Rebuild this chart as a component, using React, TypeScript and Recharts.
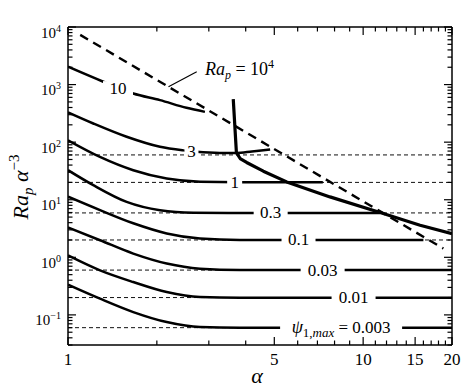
import { ComposedChart, Line, Scatter, XAxis, YAxis } from "recharts"

// contour lines of psi_1,max as [alpha, Ra_p alpha^-3]
const psi10: [number, number][] = [[1, 2040], [1.317, 1120], [1.664, 700], [2.05, 537], [2.52, 395], [2.91, 336]]
const psi3: [number, number][] = [[1, 329], [1.218, 211], [1.58, 124], [2.05, 83], [2.46, 72], [2.73, 68], [3.27, 65], [3.72, 65], [4.2, 69], [4.84, 74.6]]
const psi1: [number, number][] = [[1, 108], [1.283, 55.5], [1.664, 32.6], [2.16, 23.4], [2.8, 20.6], [3.8, 20.2], [7.3, 20.2]]
const psi03: [number, number][] = [[1, 32.6], [1.218, 17.9], [1.58, 9.16], [2.05, 6.57], [2.66, 5.95], [3.5, 5.9], [11.4, 5.9]]
const psi01: [number, number][] = [[1, 11.3], [1.284, 6.6], [1.664, 3.9], [2.16, 2.6], [2.8, 2.12], [3.82, 2.0], [16, 2.0]]
const psi003: [number, number][] = [[1, 3.3], [1.284, 1.98], [1.664, 1.16], [2.16, 0.78], [2.8, 0.635], [3.82, 0.6], [20, 0.6]]
const psi001: [number, number][] = [[1, 1.08], [1.284, 0.594], [1.664, 0.372], [2.16, 0.249], [2.8, 0.204], [3.82, 0.198], [20, 0.198]]
const psi0003: [number, number][] = [[1, 0.335], [1.284, 0.191], [1.664, 0.112], [2.16, 0.075], [2.8, 0.0614], [3.82, 0.06], [20, 0.06]]

// thick regime boundary
const boundary: [number, number][] = [[3.63, 560], [3.72, 66], [3.83, 52], [4.03, 44.4], [4.59, 31.3], [5.51, 20.4], [7.72, 11.2], [11.41, 5.99], [15.59, 3.6], [20, 2.58]]
// Ra_p = 10^4 line and its pointer
const raLine: [number, number][] = [[1.1, 7300], [18.7, 1.42]]
const raPointer: [number, number][] = [[2.19, 916], [2.73, 1670]]
const raText = [{ a: 2.91, v: 1462 }]

// thin dashed asymptotes
const asymptotes = [60, 20, 5.9, 2.0, 0.6, 0.2, 0.06]

const contourLabels = [
  { a: 1.477, v: 869, text: "10" },
  { a: 2.62, v: 68.4, text: "3" },
  { a: 3.67, v: 20.2, text: "1" },
  { a: 4.86, v: 5.9, text: "0.3" },
  { a: 6.04, v: 2.0, text: "0.1" },
  { a: 7.29, v: 0.6, text: "0.03" },
  { a: 9.28, v: 0.2, text: "0.01" },
  { a: 8.42, v: 0.06, text: "0.003" },
]

const X_TICKS = [1, 2, 3, 4, 5, 6, 7, 8, 9, 10, 11, 12, 13, 14, 15, 16, 17, 18, 19, 20]
const X_LABELS = [1, 5, 10, 15, 20]
const Y_MAJOR = [0.1, 1, 10, 100, 1000, 10000]
const Y_EXPONENTS = ["\u22121", "0", "1", "2", "3", "4"]
const Y_MINOR = [
  0.03, 0.04, 0.05, 0.06, 0.07, 0.08, 0.09,
  0.2, 0.3, 0.4, 0.5, 0.6, 0.7, 0.8, 0.9,
  2, 3, 4, 5, 6, 7, 8, 9,
  20, 30, 40, 50, 60, 70, 80, 90,
  200, 300, 400, 500, 600, 700, 800, 900,
  2000, 3000, 4000, 5000, 6000, 7000, 8000, 9000,
]
const Y_TICKS = [...Y_MINOR, ...Y_MAJOR].sort((p, q) => p - q)

const FONT = "'Liberation Serif', 'DejaVu Serif', serif"
const LABEL_GAPS: Record<string, number> = {
  "10": 30, "3": 14, "1": 15, "0.3": 34, "0.1": 34, "0.03": 44, "0.01": 44, "0.003": 122,
}

const toRows = (pts: [number, number][]) => pts.map(([a, v]) => ({ a, v }))

function makeTick(side: "left" | "right" | "top" | "bottom") {
  return (props: any) => {
    const { x, y, payload } = props
    const v = payload.value
    const vertical = side === "left" || side === "right"
    const major = vertical ? Y_MAJOR.includes(v) : X_LABELS.includes(v)
    const len = major ? 8 : 4.5
    let x2 = x
    let y2 = y
    if (side === "left") x2 = x + len
    if (side === "right") x2 = x - len
    if (side === "bottom") y2 = y - len
    if (side === "top") y2 = y + len
    let label = null
    if (side === "left" && major) {
      label = (
        <text x={x - 7} y={y + 10.5} textAnchor="end" fontSize={15} fontFamily={FONT} fill="#000">
          10<tspan dy={-6} fontSize={10}>{Y_EXPONENTS[Y_MAJOR.indexOf(v)]}</tspan>
        </text>
      )
    }
    if (side === "bottom" && major) {
      label = (
        <text x={x} y={y + 20} textAnchor="middle" fontSize={17} fontFamily={FONT} fill="#000">
          {v}
        </text>
      )
    }
    return (
      <g>
        <line x1={x} y1={y} x2={x2} y2={y2} stroke="#000" strokeWidth={1.2} />
        {label}
      </g>
    )
  }
}

function ContourLabel(props: any) {
  const { cx, cy, payload } = props
  const w = LABEL_GAPS[payload.text]
  return (
    <g>
      <rect x={cx - w / 2} y={cy - 7} width={w} height={14} fill="#fff" />
      {payload.text === "0.003" ? (
        <text x={cx} y={cy + 5.5} textAnchor="middle" fontSize={17} fontFamily={FONT} fill="#000">
          <tspan fontStyle="italic" fontSize={18}>ψ</tspan>
          <tspan fontSize={13} dy={4}>1,</tspan>
          <tspan fontSize={13} fontStyle="italic">max</tspan>
          <tspan dy={-4}> = 0.003</tspan>
        </text>
      ) : (
        <text x={cx} y={cy + 5.5} textAnchor="middle" fontSize={17} fontFamily={FONT} fill="#000">
          {payload.text}
        </text>
      )}
    </g>
  )
}

function RaLabel(props: any) {
  const { cx, cy } = props
  return (
    <text x={cx} y={cy} fontSize={18} fontFamily={FONT} fill="#000">
      <tspan fontStyle="italic">Ra</tspan>
      <tspan fontStyle="italic" fontSize={12} dy={4}>p</tspan>
      <tspan dy={-4}> = 10</tspan>
      <tspan fontSize={12} dy={-7}>4</tspan>
    </text>
  )
}

const contours = [psi10, psi3, psi1, psi03, psi01, psi003, psi001, psi0003]

export default function App() {
  const axisLine = { stroke: "#000", strokeWidth: 1.5 }
  return (
    <div style={{ position: "relative", width: 474, height: 387 }}>
      <style>{"body{margin:0}"}</style>
      <ComposedChart width={474} height={387} margin={{ top: 7, right: 2, bottom: 12, left: 8 }}>
        <XAxis
          dataKey="a" type="number" scale="log" domain={[1, 20]} allowDataOverflow
          ticks={X_TICKS} interval={0} tickSize={0} tickMargin={0} tickLine={false}
          axisLine={axisLine} tick={makeTick("bottom")} height={30}
        />
        <XAxis
          xAxisId="top" orientation="top" dataKey="a" type="number" scale="log" domain={[1, 20]} allowDataOverflow
          ticks={X_TICKS} interval={0} tickSize={0} tickMargin={0} tickLine={false}
          axisLine={axisLine} tick={makeTick("top")} height={20}
        />
        <YAxis
          dataKey="v" type="number" scale="log" domain={[0.03, 10000]} allowDataOverflow
          ticks={Y_TICKS} interval={0} tickSize={0} tickMargin={0} tickLine={false}
          axisLine={axisLine} tick={makeTick("left")} width={60}
        />
        <YAxis
          yAxisId="right" orientation="right" dataKey="v" type="number" scale="log" domain={[0.03, 10000]} allowDataOverflow
          ticks={Y_TICKS} interval={0} tickSize={0} tickMargin={0} tickLine={false}
          axisLine={axisLine} tick={makeTick("right")} width={20}
        />

        {asymptotes.map((v, i) => (
          <Line
            key={"asym" + i}
            data={[{ a: 1, v }, { a: 20, v }]}
            dataKey="v" stroke="#111" strokeWidth={1} strokeDasharray="4 3"
            dot={false} activeDot={false} isAnimationActive={false}
          />
        ))}
        <Line
          data={toRows(raLine)} dataKey="v" stroke="#000" strokeWidth={2.4} strokeDasharray="9 6"
          dot={false} activeDot={false} isAnimationActive={false}
        />
        <Line
          data={toRows(raPointer)} dataKey="v" stroke="#000" strokeWidth={1.2}
          dot={false} activeDot={false} isAnimationActive={false}
        />
        {contours.map((c, i) => (
          <Line
            key={"psi" + i}
            data={toRows(c)} type="monotone" dataKey="v" stroke="#000" strokeWidth={2.5}
            dot={false} activeDot={false} isAnimationActive={false}
          />
        ))}
        <Line
          data={toRows(boundary)} dataKey="v" stroke="#000" strokeWidth={3.2} strokeLinejoin="round"
          dot={false} activeDot={false} isAnimationActive={false}
        />
        <Scatter data={contourLabels} dataKey="v" shape={ContourLabel} isAnimationActive={false} />
        <Scatter data={raText} dataKey="v" shape={RaLabel} isAnimationActive={false} />
      </ComposedChart>
      <svg width={474} height={387} style={{ position: "absolute", left: 0, top: 0, pointerEvents: "none" }}>
        <text x={257} y={383} textAnchor="middle" fontSize={22} fontStyle="italic" fontFamily={FONT}>α</text>
        <text
          x={28} y={187} textAnchor="middle" fontSize={22} fontFamily={FONT}
          transform="rotate(-90 28 187)"
        >
          <tspan fontStyle="italic">Ra</tspan>
          <tspan fontStyle="italic" fontSize={15} dy={5}>p</tspan>
          <tspan fontStyle="italic" dy={-5}> α</tspan>
          <tspan fontSize={15} dy={-9}>−3</tspan>
        </text>
      </svg>
    </div>
  )
}
